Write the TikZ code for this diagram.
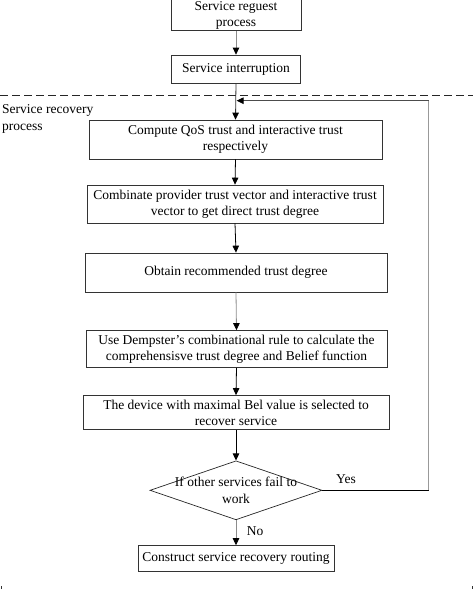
\documentclass[tikz,border=0pt]{standalone}
\usepackage{fontspec}
\setmainfont{Liberation Serif}
\usetikzlibrary{arrows.meta,shapes.geometric}
\begin{document}
\begin{tikzpicture}[x=1pt,y=-1pt,
  font=\fontsize{13.5}{16}\selectfont,
  box/.style={draw=black!80, line width=0.7pt, rectangle, inner sep=0pt, align=center},
  conn/.style={line width=0.8pt, draw=#1, -{Triangle[length=7pt,width=6.5pt,color=black]}},
  conn/.default=black,
  plain/.style={line width=0.8pt, draw=#1},
  plain/.default=black]
\useasboundingbox (0,0) rectangle (473,589);
\node[box, minimum width=130pt, minimum height=31pt] (b1) at (236,15) {Service reguest\\process};
\node[box, minimum width=129pt, minimum height=28pt] (b2) at (236,69) {Service interruption};
\node[box, minimum width=293pt, minimum height=39pt] (b3) at (235.5,139.5) {Compute QoS trust and interactive trust\\respectively};
\node[box, minimum width=296pt, minimum height=38pt] (b4) at (235,204) {Combinate provider trust vector and interactive trust\\vector to get direct trust degree};
\node[box, minimum width=302pt, minimum height=39pt] (b5) at (236,272.5) {Obtain recommended trust degree};
\node[box, minimum width=301pt, minimum height=37pt] (b6) at (236.5,349) {Use Dempster's combinational rule to calculate the\\comprehensisve trust degree and Belief function};
\node[box, minimum width=306pt, minimum height=34pt] (b7) at (236,412.5) {The device with maximal Bel value is selected to\\recover service};
\node[draw=black!85, line width=0.7pt, diamond, minimum width=172pt, minimum height=59pt, inner sep=0pt] (d) at (236,490.3) {};
\node[align=center, font=\fontsize{13.5}{16.5}\selectfont] (dt) at (d.center) {If other services fail to\\work};
\node[box, minimum width=196.3pt, minimum height=25.5pt] (b8) at (236,558.3) {Construct service recovery routing};
\node[anchor=north west, align=left, inner sep=0pt, font=\fontsize{13.5}{17.5}\selectfont] (lbl) at (2,104) {Service recovery\\process};
\node (yes) at (346,479) {Yes};
\node (no) at (255,531) {No};
\draw[black!85, line width=0.7pt, dash pattern=on 8pt off 4pt] (0,95) -- (473,95);
\coordinate (fr) at (428.7,490.3);
\coordinate (fu) at (428.7,100.7);
\coordinate (fe) at (236.6,100.7);
\draw[conn=black!45] (b1.south) -- (b2.north);
\draw[conn=black!80] (b2.south) -- (b3.north);
\draw[conn] (b3.south) -- (b4.north);
\draw[conn] (b4.south) -- (b5.north);
\draw[conn=black!45] (b5.south) -- (b6.north);
\draw[conn] (b6.south) -- (b7.north);
\draw[conn] (b7.south) -- (d.north);
\draw[conn=black!45] (d.south) -- (b8.north);
\draw[plain] (d.east) -- (fr);
\draw[plain=black!40] (fr) -- (fu);
\draw[conn=black!70] (fu) -- (fe);
\draw[black!80, line width=0.8pt] (1,586) -- (1,589);
\draw[black!80, line width=0.8pt] (472,586) -- (472,589);
\end{tikzpicture}
\end{document}
